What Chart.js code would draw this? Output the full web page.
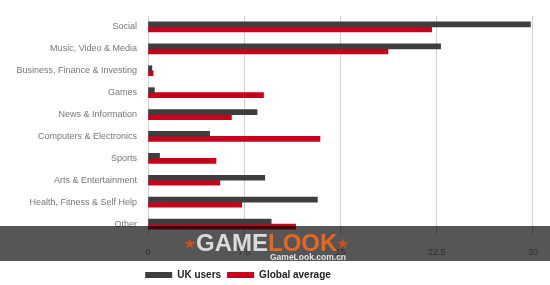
<!DOCTYPE html>
<html>
<head>
<meta charset="utf-8">
<script src="https://cdn.jsdelivr.net/npm/chart.js@4"></script>
<style>
  body { margin: 0; background: #fff; }
  #wrap { position: relative; width: 550px; height: 285px; }
  #banner {
    position: absolute; left: 0; top: 226px; width: 550px; height: 35px;
    background: rgb(86, 86, 86);
    mix-blend-mode: multiply;
  }
  #mark {
    position: absolute; left: 0; top: 226px; width: 550px; height: 35px;
    font-family: "Liberation Sans", Arial, sans-serif;
  }
  #logo {
    position: absolute; left: 184px; top: 5px; font-size: 24px; font-weight: bold;
    line-height: 24px; white-space: nowrap;
  }
  #logo .g { color: #dadada; }
  #logo .l { color: #e8661f; }
  #logo .s { color: #cf4f1d; font-size: 13px; vertical-align: 3px; }
  #site {
    position: absolute; left: 270px; top: 26px; font-size: 8.5px; font-weight: bold; color: #e4e4e4;
    white-space: nowrap;
  }
</style>
</head>
<body>
<div id="wrap">
  <canvas id="myChart" width="550" height="285"></canvas>
  <div id="banner"></div>
  <div id="mark">
    <div id="logo"><span class="s">&#9733;</span><span class="g">GAME</span><span class="l">LOOK</span><span class="s">&#9733;</span></div>
    <div id="site">GameLook.com.cn</div>
  </div>
</div>
<script>
let categorias = ["Social", "Music, Video & Media", "Business, Finance & Investing", "Games",
  "News & Information", "Computers & Electronics", "Sports", "Arts & Entertainment",
  "Health, Fitness & Self Help", "Other"];
let ukUsers = [29.8, 22.8, 0.3, 0.5, 8.5, 4.8, 0.9, 9.1, 13.2, 9.6];
let globalAvg = [22.1, 18.7, 0.4, 9.0, 6.5, 13.4, 5.3, 5.6, 7.3, 11.5];
let ticksX = [0, 7.5, 15, 22.5, 30];

// legend sits a bit left and lower in the original
const legendShift = {
    id: 'legendShift',
    afterLayout(chart) {
        const lg = chart.legend;
        lg.left = 0;
        lg.right = 476;
        lg.top += 5;
        lg.bottom += 5;
    }
};

const ctx = document.getElementById('myChart').getContext('2d');
const myChart = new Chart(ctx, {
    type: 'bar',
    data: {
        labels: categorias,
        datasets: [{
            label: 'UK users',
            data: ukUsers,
            backgroundColor: '#3e3e3e',
            barThickness: 5,
            categoryPercentage: 0.63,
            barPercentage: 1
        }, {
            label: 'Global average',
            data: globalAvg,
            backgroundColor: '#c8001a',
            barThickness: 5,
            categoryPercentage: 0.63,
            barPercentage: 1
        }]
    },
    options: {
        indexAxis: 'y',
        responsive: false,
        animation: false,
        layout: { padding: { top: 16, right: 17, left: 0, bottom: 0 } },
        scales: {
            x: {
                min: 0,
                max: 30,
                afterBuildTicks: (axis) => { axis.ticks = ticksX.map(v => ({ value: v })); },
                afterFit: (axis) => { axis.height = 24; },
                grid: { color: '#cfcfcf', lineWidth: 1, drawTicks: false },
                border: { display: false },
                ticks: { color: '#888', font: { family: 'Liberation Sans', size: 9 }, padding: 12 }
            },
            y: {
                afterFit: (axis) => { axis.width = 148; },
                grid: { display: false },
                border: { display: false },
                ticks: { color: '#777', font: { family: 'Liberation Sans', size: 9 }, padding: 3 }
            }
        },
        plugins: {
            legend: {
                position: 'bottom',
                labels: {
                    boxWidth: 27,
                    boxHeight: 6,
                    padding: 6,
                    color: '#222',
                    font: { family: 'Liberation Sans', size: 10, weight: 'bold' }
                }
            },
            tooltip: { enabled: false }
        }
    },
    plugins: [legendShift]
});
</script>
</body>
</html>
